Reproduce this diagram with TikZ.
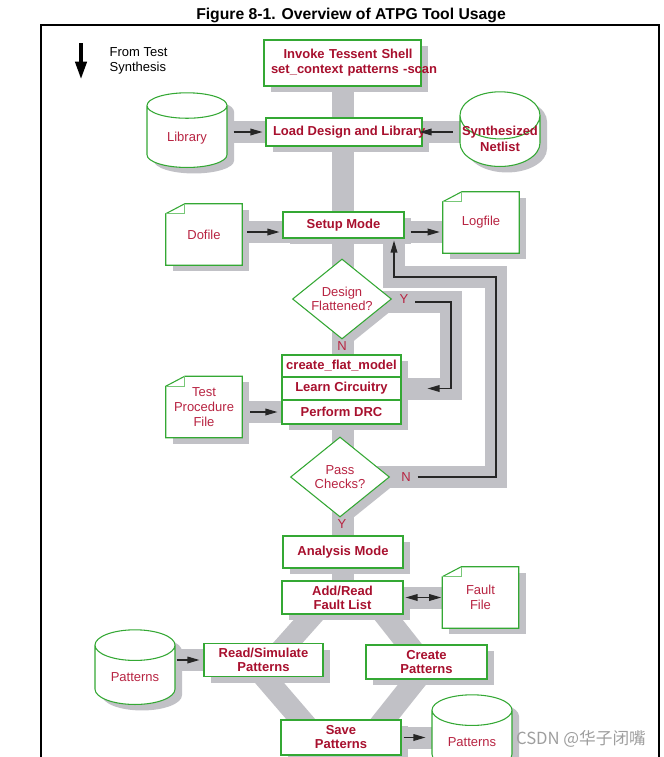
\documentclass[tikz,border=0pt]{standalone}
\usepackage{fontspec}
\setmainfont{Liberation Sans}
\newfontfamily\cjkfont{Noto Sans CJK SC}
\usetikzlibrary{arrows.meta,shapes.geometric,shadows,backgrounds}

\definecolor{boxgreen}{RGB}{52,168,52}
\definecolor{foldgreen}{RGB}{120,200,120}
\definecolor{labelred}{RGB}{168,16,46}
\definecolor{filered}{RGB}{184,36,66}
\definecolor{bandgray}{RGB}{193,193,198}

\newcommand{\boxfont}{\fontsize{9.75pt}{10.5pt}\selectfont\bfseries}
\newcommand{\filefont}{\fontsize{9.75pt}{11pt}\selectfont}

\tikzset{
  band/.style={draw=bandgray, line width=16.5pt},
  greyshadow/.style={general shadow={fill=bandgray, shadow xshift=5.25pt, shadow yshift=-4.5pt}},
  box/.style={rectangle, draw=boxgreen, fill=white, line width=0.8pt, text=labelred,
    font=\boxfont, align=center, inner sep=2pt, minimum width=90pt, greyshadow},
  row/.style={box, minimum width=89.25pt, inner sep=0pt},
  decision/.style={diamond, aspect=1.25, draw=boxgreen, line width=0.8pt, fill=white,
    text=filered, font=\filefont, align=center, inner sep=0pt,
    minimum width=74.25pt, minimum height=60pt, greyshadow},
  store/.style={cylinder, shape border rotate=90, aspect=0.6, draw=boxgreen, line width=0.8pt,
    fill=white, text=filered, font=\filefont, align=center, inner sep=1pt, anchor=south,
    minimum width=60pt, minimum height=56pt, greyshadow},
  docbox/.style={rectangle, minimum width=57pt, minimum height=45.75pt, inner sep=0pt},
  docedge/.style={draw=boxgreen, fill=white, line width=0.8pt},
  docfold/.style={draw=foldgreen, line width=0.8pt},
  doclabel/.style={text=filered, font=\filefont, align=center},
  yn/.style={text=filered, font=\filefont, inner sep=1pt},
  flow/.style={draw=black!85, line width=0.9pt, -{Triangle[length=9pt,width=5pt]}},
}

% file icon with folded corner: name, position, text
\newcommand{\notefile}[3]{%
  \node[docbox] (#1) at (#2) {};
  \fill[bandgray] ([shift={(7,6)}]#1.south west) rectangle ([shift={(7,6)}]#1.north east);
  \filldraw[docedge] ([shift={(0,10)}]#1.north west) -- ([shift={(19,0)}]#1.north west)
    -- (#1.north east) -- (#1.south east) -- (#1.south west) -- cycle;
  \draw[docfold] ([shift={(0,10)}]#1.north west) -- ++(19,0) -- ++(0,-10);
  \node[doclabel] (#1-t) at (#1) {#3};
}

\begin{document}
\begin{tikzpicture}[x=0.75pt,y=-0.75pt]
  \useasboundingbox (0,0) rectangle (664,757);

  % title and frame
  \node[font=\fontsize{11.8pt}{13pt}\selectfont\bfseries] (title) at (351,15)
    {Figure 8-1. Overview of ATPG Tool Usage};
  \draw[line width=1pt] (41,757) -- (41,25) -- (659,25) -- (659,757);

  % legend
  \coordinate (legtop) at (81,43);
  \coordinate (legbot) at (81,79);
  \draw[line width=2.4pt, -{Triangle[length=13pt,width=8.5pt]}] (legtop) -- (legbot);
  \node[font=\filefont, align=left, anchor=west] (legend) at (105,61) {From Test\\Synthesis};

  % top of the flow
  \node[box, text width=107.25pt, inner xsep=5.25pt, minimum height=34.5pt, align=left,
    font=\fontsize{9.75pt}{11.25pt}\selectfont\bfseries] (invoke) at (342.5,63)
    {\hspace*{9.4pt}\mbox{Invoke Tessent Shell}\\\mbox{set\_context patterns -scan}\\[-3pt]};
  \node[box, minimum width=117pt, minimum height=21pt, inner xsep=5.25pt] (load) at (344,132)
    {\makebox[106.5pt][l]{Load Design and Library}};
  \node[store] (library) at (187,168) {Library};
  \node[store, font=\boxfont, text=labelred] (netlist) at (500,167)
    {\smash{\begin{tabular}{@{}c@{}}Synthesized\\[1.5pt]Netlist\end{tabular}}};

  \node[box, minimum width=90.75pt, minimum height=19.5pt] (setup) at (343.5,225) {Setup Mode};
  \coordinate (setuplevel) at ([yshift=-5.25pt]setup.east);
  \notefile{dofile}{204,234.5}{Dofile}
  \notefile{logfile}{481,222.5}{Logfile}

  \node[decision] (design) at (342,299) {Design\\Flattened?};
  \node[yn] (flaty) at (404,299) {Y};
  \node[yn] (flatn) at (342,346) {N};

  \node[row, minimum height=16.5pt] (flat) at (341.5,366) {create\_flat\_model};
  \node[row, minimum height=17.25pt] (learn) at (341.5,388.5) {Learn Circuitry};
  \node[row, minimum height=18pt] (drc) at (341.5,412) {Perform DRC};
  \notefile{testproc}{204,407}{Test\\Procedure\\File}

  \node[decision] (pass) at (340,477) {Pass\\Checks?};
  \node[yn] (passn) at (406,477) {N};
  \node[yn] (passy) at (342,524) {Y};

  % pattern part
  \node[box, minimum height=24pt] (analysis) at (343,552) {Analysis Mode};
  \node[box, minimum width=90.75pt, minimum height=24.75pt] (addread) at (342.5,597.5) {Add/Read\\Fault List};
  \notefile{fault}{480.5,597.5}{Fault\\File}
  \node[box, minimum width=89.25pt, minimum height=24.75pt] (readsim) at (263.5,660) {Read/Simulate\\Patterns};
  \node[box, minimum width=90.75pt, minimum height=25.5pt] (create) at (426.5,662) {Create\\Patterns};
  \node[box, minimum height=26.25pt] (save) at (341,737.5) {Save\\Patterns};
  \node[store] (patl) at (135,705) {Patterns};
  \node[store] (patr) at (472,770) {Patterns};

  % loops
  \coordinate (yright) at (451,302);
  \coordinate (loopleft) at (394,277);
  \coordinate (loopright) at (496,277);

  % arrows
  \draw[flow, shorten <=4.5pt, shorten >=2.25pt] (library.east |- load.west) -- (load.west);
  \draw[flow, shorten <=5.25pt, shorten >=-2.25pt] (netlist.west |- load.east) -- (load.east);
  \draw[flow, shorten <=3.75pt, shorten >=2.25pt] (dofile.east |- setuplevel) -- (setup.west |- setuplevel);
  \draw[flow, shorten <=4.5pt, shorten >=2.25pt] (setuplevel) -- (logfile.west |- setuplevel);
  \draw[flow, shorten >=19.5pt] ([xshift=4pt]flaty.east |- yright) -- (yright) |- (learn.east);
  \draw[flow, shorten >=1.5pt] ([xshift=4pt]passn.east) -| (loopright) -- (loopleft) -- (loopleft |- setup.south);
  \draw[flow, shorten <=6pt, shorten >=3pt] (testproc.east |- drc.west) -- (drc.west);
  \draw[flow, {Triangle[length=9pt,width=5pt]}-{Triangle[length=9pt,width=5pt]},
    shorten <=1.5pt, shorten >=0.75pt] (addread.east) -- (fault.west);
  \draw[flow, shorten <=0.75pt, shorten >=3pt] (patl.east |- readsim.west) -- (readsim.west);
  \draw[flow, shorten <=1.5pt, shorten >=4.5pt] (save.east) -- (save.east -| patr.west);

  % grey bands behind
  \begin{scope}[on background layer]
    \draw[band] (invoke.center) -- (addread.center);
    \draw[band] (library.center |- load.center) -- (netlist.center |- load.center);
    \draw[band] (dofile.center |- setuplevel) -- (logfile.center |- setuplevel);
    \draw[band] (setup.center -| loopleft) -- (loopleft) -- (loopright) -- (loopright |- pass.center) -- (pass.center);
    \draw[band] (design.center |- yright) -- (yright) -- (yright |- learn.center) -- (learn.center);
    \draw[band] (testproc.center |- drc.center) -- (drc.center);
    \draw[band] (addread.center) -- (fault.center);
    \draw[band] (patl.center |- readsim.center) -- (readsim.center);
    \draw[band] (save.center) -- (save.center -| patr.center);
    \draw[band] (326,600) -- (261,673) -- (323,745) -- (364,745) -- (426,667) -- (373,600) -- cycle;
  \end{scope}

  \node[font=\cjkfont\fontsize{12.5pt}{14pt}\selectfont, text=black!38] (mark) at (581,739) {CSDN @华子闭嘴};
\end{tikzpicture}
\end{document}
